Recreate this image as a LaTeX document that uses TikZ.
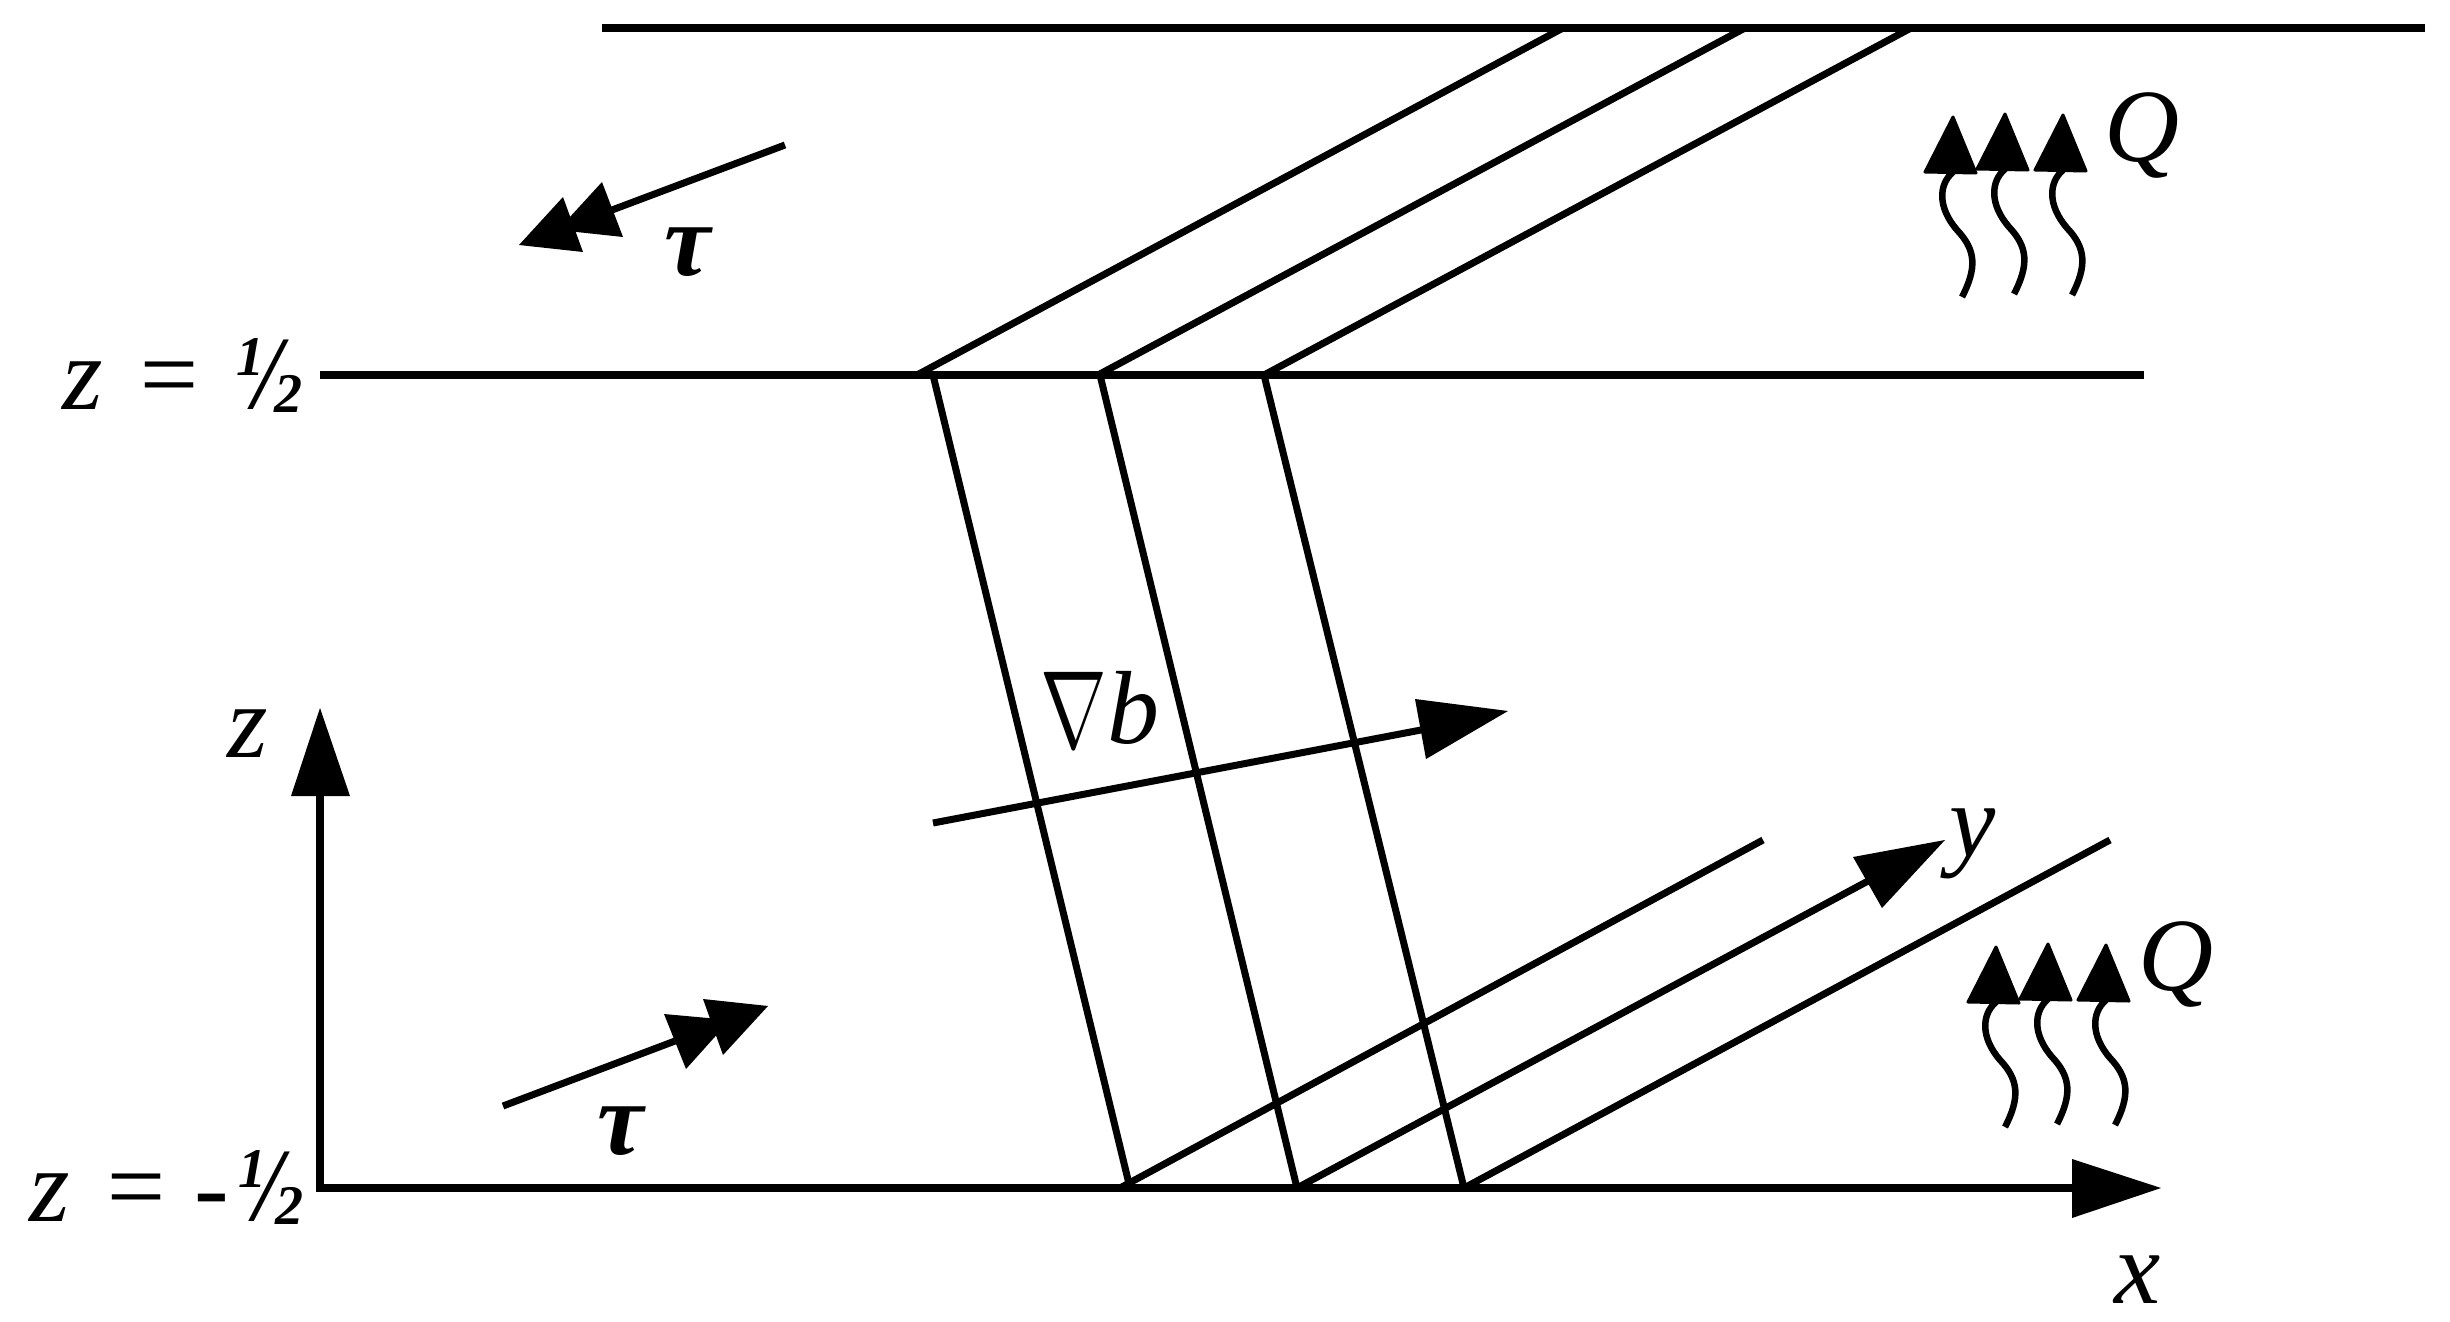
\documentclass[tikz,border=0pt]{standalone}
\usepackage{fontspec}
\setmainfont{Liberation Serif}
\tikzset{
  ln/.style={line width=7.5pt,line cap=butt,black},
  thinln/.style={line width=7pt,line cap=butt,black},
  headfill/.style={fill=black,draw=none},
  qhead/.style={fill=black,draw=black,line width=3pt,line join=round},
  wavy/.style={line width=6.5pt,line cap=butt,black},
  lab/.style={inner sep=0pt,outer sep=0pt,font=\fontsize{104}{104}\selectfont\itshape},
  num/.style={inner sep=0pt,outer sep=0pt,font=\fontsize{56}{56}\selectfont\bfseries\itshape},
  boldlab/.style={inner sep=0pt,outer sep=0pt,font=\fontsize{104}{104}\selectfont\bfseries\itshape}
}
\newcommand{\qwave}{%
  \draw[wavy] (1962,297) .. controls (1977,268) and (1976,250) .. (1957,230)
              .. controls (1938,208) and (1938,185) .. (1953,172);
  \path[qhead] (1953,117) -- (1925,172) -- (1976,173) -- cycle;
}
\newcommand{\qgroup}{%
  \qwave
  \begin{scope}[shift={(52,-3)}]\qwave\end{scope}
  \begin{scope}[shift={(110,-2)}]\qwave\end{scope}
}
\begin{document}
\begin{tikzpicture}[x=1pt,y=-1pt]
\useasboundingbox (0,0) rectangle (2450,1322);
% horizontal planes
\coordinate (t0) at (602,28);   \coordinate (t1) at (2425,28);
\coordinate (m0) at (320,375);  \coordinate (m1) at (2144,375);
\coordinate (o) at (320,1188);
\draw[ln] (t0) -- (t1);
\draw[ln] (m0) -- (m1);
% axes
\coordinate (xb) at (2072,1188); \coordinate (xt) at (2161,1188);
\coordinate (zb) at (320,796);   \coordinate (zt) at (320,708);
\draw[ln] (zb) -- (o) -- (xb);
\path[headfill] (xt) -- (2072,1159) -- (2072,1218) -- cycle;
\path[headfill] (zt) -- (291,796) -- (350,796) -- cycle;
% slanted upper lines
\coordinate (ua0) at (917,375);  \coordinate (ua1) at (1563,28);
\coordinate (ub0) at (1098,375); \coordinate (ub1) at (1745,28);
\coordinate (uc0) at (1264,375); \coordinate (uc1) at (1911,28);
\draw[thinln] (ua0) -- (ua1);
\draw[thinln] (ub0) -- (ub1);
\draw[thinln] (uc0) -- (uc1);
% steep lines
\coordinate (da0) at (933,375);  \coordinate (da1) at (1130,1188);
\coordinate (db0) at (1100,375); \coordinate (db1) at (1297,1188);
\coordinate (dc0) at (1264,375); \coordinate (dc1) at (1464,1188);
\draw[thinln] (da0) -- (da1);
\draw[thinln] (db0) -- (db1);
\draw[thinln] (dc0) -- (dc1);
% lower slanted lines
\coordinate (la0) at (1120,1188); \coordinate (la1) at (1763,840);
\coordinate (lb0) at (1297,1188); \coordinate (lb1) at (1868,881);
\coordinate (lc0) at (1464,1188); \coordinate (lc1) at (2110,840);
\draw[thinln] (la0) -- (la1);
\draw[thinln] (lb0) -- (lb1);
\draw[thinln] (lc0) -- (lc1);
\path[headfill] (1945,840) -- (1853,857) -- (1882,908) -- cycle;
% grad b arrow
\coordinate (g0) at (933,823); \coordinate (g1) at (1421,730);
\draw[thinln] (g0) -- (g1);
\path[headfill] (1508,711) -- (1415,699) -- (1426,759) -- cycle;
% upper tau arrow
\coordinate (ta0) at (785,145); \coordinate (ta1) at (612,210);
\draw[thinln] (ta0) -- (ta1);
\path[headfill] (519,245) -- (563,197) -- (583,252) -- cycle;
\path[headfill] (558,230) -- (602,182) -- (623,237) -- cycle;
% lower tau arrow
\coordinate (tb0) at (503,1106); \coordinate (tb1) at (675,1041);
\draw[thinln] (tb0) -- (tb1);
\path[headfill] (730,1020) -- (664,1014) -- (686,1069) -- cycle;
\path[headfill] (768,1006) -- (703,999) -- (723,1055) -- cycle;
% heat arrows
\qgroup
\begin{scope}[shift={(43,830)}]\qgroup\end{scope}
% labels
\node[lab] (q1) at (2142,135) {Q};
\node[lab] (q2) at (2176,964) {Q};
\node[boldlab] (tau1) at (688,252) {τ};
\node[boldlab] (tau2) at (621,1131) {τ};
\node[inner sep=0pt,xscale=8,yscale=11] (nab) at (1074,710) {$\nabla$};
\node[lab] (bb) at (1133,708) {b};
\node[lab] (yy) at (1973,844) {y};
\node[lab] (xx) at (2138,1280) {x};
\node[lab] (zz) at (248,734) {z};
% z = 1/2
\node[lab] (z1) at (83,386) {z};
\node[lab] (e1) at (169,386) {=};
\node[num] (a1) at (250,357) {1};
\node[lab] (s1) at (267,375) {/};
\node[num] (b1) at (288,394) {2};
% z = -1/2
\node[lab] (z2) at (50,1198) {z};
\node[lab] (e2) at (136,1198) {=};
\node[lab] (m2) at (212,1208) {-};
\node[num] (a2) at (252,1169) {1};
\node[lab] (s2) at (268,1187) {/};
\node[num] (b2) at (289,1206) {2};
\end{tikzpicture}
\end{document}
